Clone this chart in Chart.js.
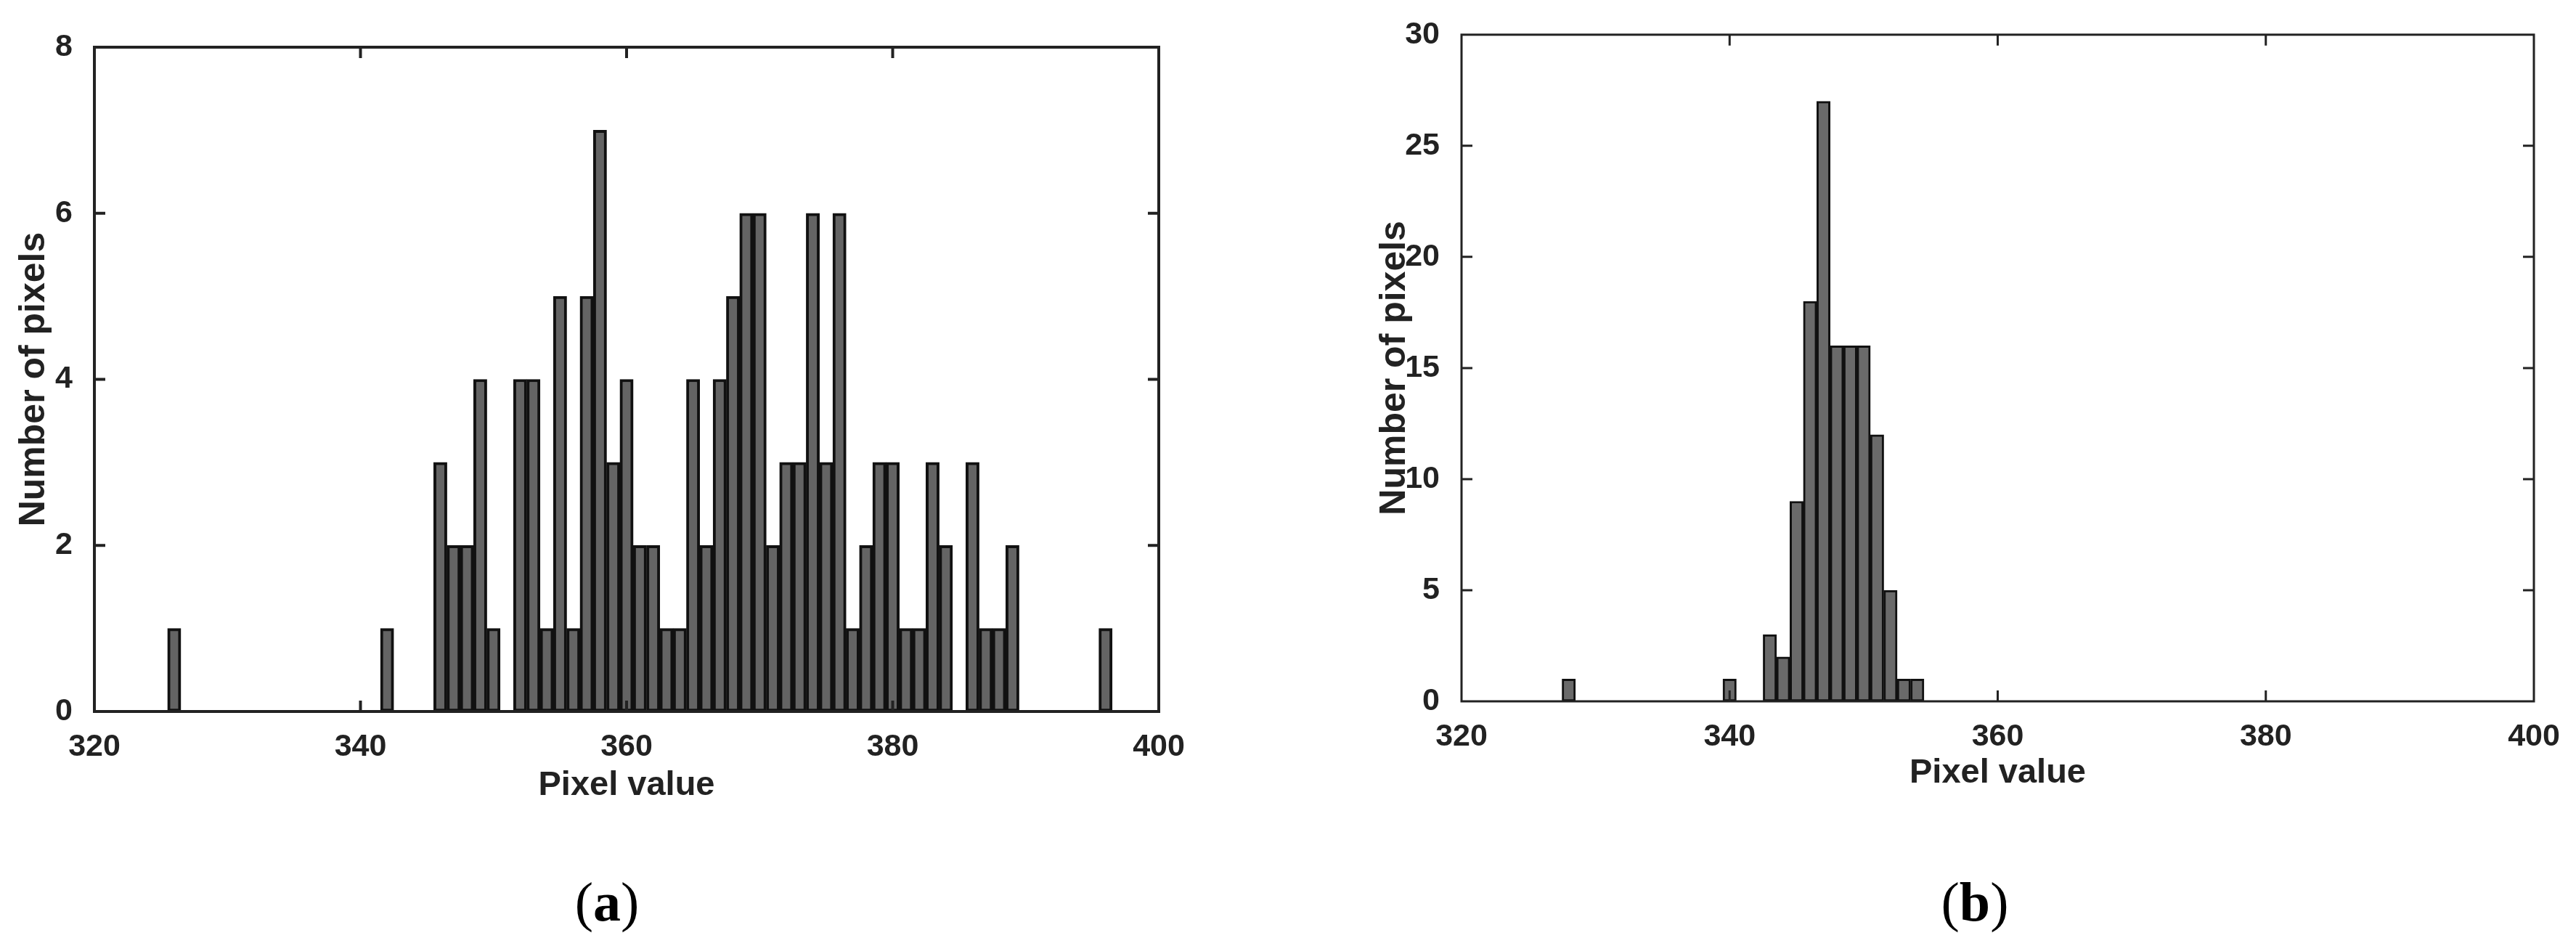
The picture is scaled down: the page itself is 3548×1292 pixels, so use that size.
<!DOCTYPE html>
<html lang="en">
  <head>
    <meta charset="UTF-8" />
    <title>Pixel value histograms</title>
    <script src="https://cdn.jsdelivr.net/npm/chart.js@4.4.1/dist/chart.umd.min.js"></script>
    <style>
      body {
        margin: 0;
        width: 3548px;
        height: 1292px;
        background: #fff;
        position: relative;
        overflow: hidden;
      }
      .panel {
        position: absolute;
        top: 0;
        width: 1774px;
        height: 1292px;
      }
      .caption {
        position: absolute;
        top: 1204px;
        font-family: "Liberation Serif", "DejaVu Serif", serif;
        font-size: 76px;
        line-height: 1;
        color: #000;
        transform: translateX(-50%);
      }
    </style>
  </head>
  <body>
    <div class="panel" style="left: 0px">
      <canvas id="histA" width="1774" height="1292"></canvas>
    </div>
    <div class="panel" style="left: 1774px">
      <canvas id="histB" width="1774" height="1292"></canvas>
    </div>
    <div class="caption" style="left: 836px">(<b>a</b>)</div>
    <div class="caption" style="left: 2720px">(<b>b</b>)</div>

    <script>
      // histogram (a): pixel value bins and counts
      const binsA = [
        326, 342, 346, 347, 348, 349, 350, 352, 353, 354, 355, 356, 357, 358,
        359, 360, 361, 362, 363, 364, 365, 366, 367, 368, 369, 370, 371, 372,
        373, 374, 375, 376, 377, 378, 379, 380, 381, 382, 383, 384, 386, 387,
        388, 389, 396,
      ];
      const countsA = [
        1, 1, 3, 2, 2, 4, 1, 4, 4, 1, 5, 1, 5, 7,
        3, 4, 2, 2, 1, 1, 4, 2, 4, 5, 6, 6, 2, 3,
        3, 6, 3, 6, 1, 2, 3, 3, 1, 1, 3, 2, 3, 1,
        1, 2, 1,
      ];

      // histogram (b)
      const binsB = [328, 340, 343, 344, 345, 346, 347, 348, 349, 350, 351, 352, 353, 354];
      const countsB = [1, 1, 3, 2, 9, 18, 27, 16, 16, 16, 12, 5, 1, 1];

      // axis ranges / tick steps
      const xRange = [320, 400];
      const xStep = 20;
      const yMaxA = 8;
      const yStepA = 2;
      const yMaxB = 30;
      const yStepB = 5;

      const xTitle = "Pixel value";
      const yTitle = "Number of pixels";

      const textColor = "#222";

      // box around the plot with inward tick marks on all four sides
      const framePlugin = {
        id: "frame",
        afterDatasetsDraw(chart, args, o) {
          const { ctx, chartArea: a, scales } = chart;
          ctx.save();
          ctx.strokeStyle = "#222";
          ctx.lineWidth = o.width;
          ctx.beginPath();
          scales.x.ticks.forEach((t) => {
            if (t.value <= scales.x.min || t.value >= scales.x.max) return;
            const px = scales.x.getPixelForValue(t.value);
            ctx.moveTo(px, a.bottom);
            ctx.lineTo(px, a.bottom - o.len);
            ctx.moveTo(px, a.top);
            ctx.lineTo(px, a.top + o.len);
          });
          scales.y.ticks.forEach((t) => {
            if (t.value <= scales.y.min || t.value >= scales.y.max) return;
            const py = scales.y.getPixelForValue(t.value);
            ctx.moveTo(a.left, py);
            ctx.lineTo(a.left + o.len, py);
            ctx.moveTo(a.right, py);
            ctx.lineTo(a.right - o.len, py);
          });
          ctx.stroke();
          ctx.strokeRect(a.left, a.top, a.right - a.left, a.bottom - a.top);
          ctx.restore();
        },
      };

      function makeHist(id, bins, counts, s) {
        const points = bins.map((b, i) => ({ x: b, y: counts[i] }));
        return new Chart(document.getElementById(id), {
          type: "bar",
          data: {
            datasets: [
              {
                data: points,
                backgroundColor: s.fill,
                borderColor: "#111",
                borderWidth: s.barBorder,
                borderSkipped: false,
                barPercentage: 1,
                categoryPercentage: 1,
              },
            ],
          },
          plugins: [framePlugin],
          options: {
            responsive: false,
            devicePixelRatio: 1,
            animation: false,
            layout: { padding: s.padding },
            plugins: {
              legend: { display: false },
              tooltip: { enabled: false },
              frame: { width: s.frameWidth, len: 15 },
            },
            scales: {
              x: {
                type: "linear",
                offset: false,
                min: xRange[0],
                max: xRange[1],
                grid: { display: false },
                border: { display: false },
                ticks: {
                  stepSize: xStep,
                  maxRotation: 0,
                  autoSkip: false,
                  padding: 15,
                  color: textColor,
                  font: { family: "Liberation Sans", size: 43, weight: "bold" },
                },
                title: {
                  display: true,
                  text: xTitle,
                  color: textColor,
                  font: { family: "Liberation Sans", size: 47, weight: "bold" },
                  padding: { top: 0, bottom: s.xTitlePad },
                },
                afterFit(scale) {
                  scale.height = 140;
                },
              },
              y: {
                min: 0,
                max: s.yMax,
                grid: { display: false },
                border: { display: false },
                ticks: {
                  stepSize: s.yStep,
                  padding: 22,
                  color: textColor,
                  font: { family: "Liberation Sans", size: 43, weight: "bold" },
                },
                title: {
                  display: true,
                  text: yTitle,
                  color: textColor,
                  font: { family: "Liberation Sans", size: 50, weight: "bold" },
                  padding: { top: s.yTitlePad, bottom: 0 },
                },
                afterFit(scale) {
                  scale.width = s.yWidth;
                },
              },
            },
          },
        });
      }

      makeHist("histA", binsA, countsA, {
        fill: "#646464",
        barBorder: 4,
        frameWidth: 4,
        yMax: yMaxA,
        yStep: yStepA,
        yWidth: 130,
        yTitlePad: 17,
        xTitlePad: 10,
        padding: { left: 0, top: 65, right: 178, bottom: 172 },
      });

      makeHist("histB", binsB, countsB, {
        fill: "#6a6a6a",
        barBorder: 3,
        frameWidth: 3,
        yMax: yMaxB,
        yStep: yStepB,
        yWidth: 139,
        yTitlePad: 17,
        xTitlePad: 13,
        padding: { left: 100, top: 30, right: 58, bottom: 186 },
      });
    </script>
  </body>
</html>
